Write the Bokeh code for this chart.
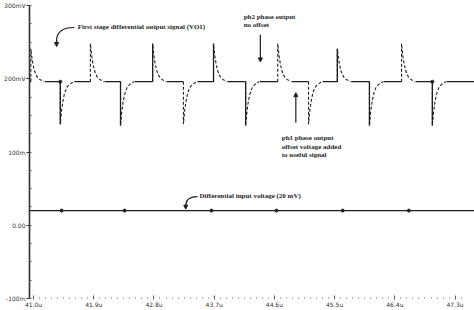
from bokeh.plotting import figure
from bokeh.models import (Range1d, FixedTicker, Label, Arrow, NormalHead, ColumnDataSource)
from bokeh.embed import file_html
from bokeh.resources import INLINE

# ---- data (time in microseconds, voltage in mV) ----
x_ticks = [41.0, 41.9, 42.8, 43.7, 44.6, 45.5, 46.4, 47.3]
x_tick_labels = ["41.0u", "41.9u", "42.8u", "43.7u", "44.6u", "45.5u", "46.4u", "47.3u"]
y_ticks = [-100, 0, 100, 200, 300]
y_tick_labels = ["-100m", "0.00", "100m", "200mV", "300mV"]

# switching instants of the chopper clock and the spike heights seen there
event_t = [40.96, 41.40, 41.85, 42.30, 42.78, 43.24, 43.69, 44.17,
           44.65, 45.11, 45.54, 46.02, 46.50, 46.96]
event_amp = [45, -58, 52, -60, 52, -58, 52, -60, 52, -58, 45, -60, 52, -60]
# phi1 output shows a sharp (solid) edge at these instants
solid_edge = [False, True, False, True, True, False, True, True,
              False, False, True, True, False, True]

baseline_mv = 196          # settled output level
input_mv = 20              # differential input voltage
# settling shape after each edge, sampled every settle_dt
settle_profile = [1.0, 0.67, 0.45, 0.30, 0.20, 0.13, 0.09, 0.06, 0.04, 0.02, 0.0]
settle_dt = 0.02

input_marks_t = [41.42, 42.36, 43.66, 44.63, 45.62, 46.61]
output_marks_t = [41.40, 46.96]

t_start, t_end = 40.94, 47.59

# ---- build traces ----
gap = settle_dt * (len(settle_profile) - 1)

solid_x, solid_y = [], []
prev_end = t_start
for t, a, s in zip(event_t, event_amp, solid_edge):
    if t > prev_end:
        solid_x += [prev_end, t]
        solid_y += [baseline_mv, baseline_mv]
        if s:
            solid_x += [t]
            solid_y += [baseline_mv + a]
        solid_x.append(float("nan"))
        solid_y.append(float("nan"))
    elif s:
        solid_x += [t, t, float("nan")]
        solid_y += [baseline_mv, baseline_mv + a, float("nan")]
    prev_end = t + gap + 0.01
solid_x += [prev_end, t_end]
solid_y += [baseline_mv, baseline_mv]

dash_x, dash_y = [], []
for t, a in zip(event_t, event_amp):
    dash_x.append(t)
    dash_y.append(baseline_mv)
    for k, f in enumerate(settle_profile):
        dash_x.append(t + k * settle_dt)
        dash_y.append(baseline_mv + a * f)
    dash_x.append(float("nan"))
    dash_y.append(float("nan"))

ink = "#1e1e1e"
serif = "Liberation Serif"

p = figure(width=474, height=310, output_backend="svg", toolbar_location=None,
           x_range=Range1d(t_start, t_end), y_range=Range1d(-100, 300),
           min_border_left=29, min_border_right=0, min_border_top=5,
           min_border_bottom=12)
p.outline_line_color = None
p.xgrid.visible = False
p.ygrid.visible = False
p.background_fill_color = "white"
p.border_fill_color = "white"

# axes
p.xaxis.ticker = FixedTicker(ticks=x_ticks,
                             minor_ticks=[x_ticks[0] + i * 0.09 for i in range(-1, 72)])
p.xaxis.major_label_overrides = dict(zip(x_ticks, x_tick_labels))
p.xaxis.axis_line_color = None
p.xaxis.major_tick_line_color = "#555"
p.xaxis.major_tick_in = 3
p.xaxis.major_tick_out = 1
p.xaxis.minor_tick_line_color = "#666"
p.xaxis.minor_tick_in = 1
p.xaxis.minor_tick_out = 0
p.xaxis.major_label_standoff = 1
p.xaxis.major_label_text_font = "DejaVu Sans"
p.xaxis.major_label_text_font_size = "6px"
p.xaxis.major_label_text_color = "#333"

p.yaxis.ticker = FixedTicker(ticks=y_ticks, minor_ticks=list(range(-100, 301, 25)))
p.yaxis.major_label_overrides = dict(zip(y_ticks, y_tick_labels))
p.yaxis.axis_line_color = "#333"
p.yaxis.axis_line_width = 1.6
p.yaxis.major_tick_line_color = "#333"
p.yaxis.major_tick_in = 0
p.yaxis.major_tick_out = 3
p.yaxis.minor_tick_line_color = "#555"
p.yaxis.minor_tick_in = 2
p.yaxis.minor_tick_out = 0
p.yaxis.major_label_standoff = 1
p.yaxis.major_label_text_font = "DejaVu Sans"
p.yaxis.major_label_text_font_size = "6px"
p.yaxis.major_label_text_color = "#333"

# differential input
p.line([t_start, t_end], [input_mv, input_mv], line_color=ink, line_width=1.3)
p.scatter(input_marks_t, [input_mv] * len(input_marks_t), size=3,
          color=ink, marker="circle")

# first-stage output: phi1 (solid) and settling of phi2 (dashed)
p.line(solid_x, solid_y, line_color=ink, line_width=1.3)
p.line(dash_x, dash_y, line_color=ink, line_width=1.1, line_dash="3 2")
p.scatter(output_marks_t, [baseline_mv] * len(output_marks_t), size=3,
          color=ink, marker="circle")

# ---- annotations ----
def note(x, y, text, size="7px", align="left"):
    p.add_layout(Label(x=x, y=y, text=text, text_font=serif, text_font_size=size,
                       text_color=ink, text_baseline="middle", text_align=align,
                       text_font_style="bold"))

def head():
    return NormalHead(size=4, fill_color=ink, line_color=ink)

note(41.66, 270, "First stage differential output signal (VO1)")
p.bezier(x0=[41.61], y0=[270], x1=[41.345], y1=[252],
         cx0=[41.40], cy0=[270], cx1=[41.345], cy1=[262],
         line_color=ink, line_width=1.2)
p.add_layout(Arrow(x_start=41.345, y_start=253, x_end=41.345, y_end=244,
                   end=head(), line_color=ink, line_width=1.2))

note(44.14, 284, "ph2 phase output")
note(44.14, 273, "no offset")
p.add_layout(Arrow(x_start=44.39, y_start=260, x_end=44.39, y_end=223,
                   end=head(), line_color=ink, line_width=1.2))

note(44.71, 118.5, "ph1 phase output")
note(44.71, 107.5, "offset voltage added")
note(44.71, 96.5, "to useful signal")
p.add_layout(Arrow(x_start=44.92, y_start=140, x_end=44.92, y_end=181,
                   end=head(), line_color=ink, line_width=1.2))

note(43.48, 40.5, "Differential input voltage (20 mV)")
p.bezier(x0=[43.45], y0=[39], x1=[43.275], y1=[28],
         cx0=[43.34], cy0=[39], cx1=[43.28], cy1=[35],
         line_color=ink, line_width=1.2)
p.add_layout(Arrow(x_start=43.275, y_start=29, x_end=43.275, y_end=22,
                   end=head(), line_color=ink, line_width=1.2))

p.add_layout(Label(x=46.76, y=-108.5, text="time (ns)", text_font=serif,
                   text_font_size="7px", text_color=ink, text_baseline="middle",
                   text_font_style="bold"))

open("out.html", "w").write(file_html(p, INLINE))
